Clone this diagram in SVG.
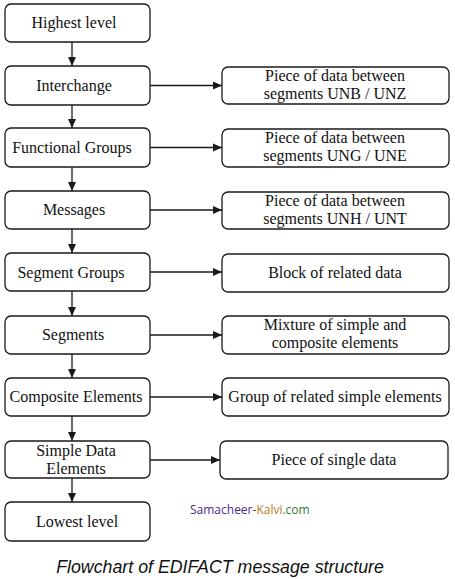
<svg xmlns="http://www.w3.org/2000/svg" width="455" height="579" viewBox="0 0 455 579">
<style>
.box{fill:#fff;stroke:#1a1a1a;stroke-width:1.3}
.t{font-family:'Liberation Serif','DejaVu Serif',serif;font-size:16px;fill:#111;text-anchor:middle}
.c line{stroke:#1a1a1a;stroke-width:1.3}
</style>
<defs>
<marker id="ah" markerWidth="10" markerHeight="10" refX="9" refY="5" orient="auto" markerUnits="userSpaceOnUse">
<path d="M0,1 L9,5 L0,9 Z" fill="#1a1a1a"/>
</marker>
</defs>
<rect width="455" height="579" fill="#fff"/>
<g class="c">
<line x1="72" y1="42" x2="72" y2="66" marker-end="url(#ah)"/>
<line x1="72" y1="105" x2="72" y2="128" marker-end="url(#ah)"/>
<line x1="72" y1="167" x2="72" y2="191" marker-end="url(#ah)"/>
<line x1="72" y1="229" x2="72" y2="253" marker-end="url(#ah)"/>
<line x1="72" y1="291" x2="72" y2="316" marker-end="url(#ah)"/>
<line x1="72" y1="354" x2="72" y2="378" marker-end="url(#ah)"/>
<line x1="72" y1="416" x2="72" y2="441" marker-end="url(#ah)"/>
<line x1="72" y1="478" x2="72" y2="502" marker-end="url(#ah)"/>
<line x1="150" y1="85.5" x2="222" y2="85.5" marker-end="url(#ah)"/>
<line x1="150" y1="147.5" x2="222" y2="147.5" marker-end="url(#ah)"/>
<line x1="150" y1="210" x2="222" y2="210" marker-end="url(#ah)"/>
<line x1="150" y1="272" x2="222" y2="272" marker-end="url(#ah)"/>
<line x1="150" y1="335" x2="222" y2="335" marker-end="url(#ah)"/>
<line x1="150" y1="397" x2="222" y2="397" marker-end="url(#ah)"/>
<line x1="150" y1="460" x2="220" y2="460" marker-end="url(#ah)"/>
</g>
<g id="highest"><rect class="box" x="5" y="4" width="145" height="38" rx="6"/><text class="t" x="74" y="28">Highest level</text></g>
<g id="interchange"><rect class="box" x="5" y="66" width="145" height="39" rx="6"/><text class="t" x="74" y="91">Interchange</text></g>
<g id="functional"><rect class="box" x="5" y="128" width="145" height="39" rx="6"/><text class="t" x="72" y="153">Functional Groups</text></g>
<g id="messages"><rect class="box" x="5" y="191" width="145" height="38" rx="6"/><text class="t" x="74" y="215">Messages</text></g>
<g id="seggroups"><rect class="box" x="5" y="253" width="145" height="38" rx="6"/><text class="t" x="71" y="278">Segment Groups</text></g>
<g id="segments"><rect class="box" x="5" y="316" width="145" height="38" rx="6"/><text class="t" x="73" y="340">Segments</text></g>
<g id="composite"><rect class="box" x="5" y="378" width="145" height="38" rx="6"/><text class="t" x="76" y="402">Composite Elements</text></g>
<g id="simple"><rect class="box" x="5" y="441" width="145" height="37" rx="6"/><text class="t" x="76" y="456">Simple Data</text><text class="t" x="76" y="474">Elements</text></g>
<g id="lowest"><rect class="box" x="5" y="502" width="145" height="39" rx="6"/><text class="t" x="77" y="527">Lowest level</text></g>
<g id="r1"><rect class="box" x="222" y="67" width="227" height="37" rx="6"/><text class="t" x="335" y="81">Piece of data between</text><text class="t" x="335" y="99">segments UNB / UNZ</text></g>
<g id="r2"><rect class="box" x="222" y="129" width="227" height="38" rx="6"/><text class="t" x="335" y="143">Piece of data between</text><text class="t" x="335" y="161">segments UNG / UNE</text></g>
<g id="r3"><rect class="box" x="222" y="192" width="227" height="37" rx="6"/><text class="t" x="335" y="206">Piece of data between</text><text class="t" x="335" y="224">segments UNH / UNT</text></g>
<g id="r4"><rect class="box" x="222" y="254" width="227" height="38" rx="6"/><text class="t" x="335" y="278">Block of related data</text></g>
<g id="r5"><rect class="box" x="222" y="316" width="227" height="38" rx="6"/><text class="t" x="335" y="330">Mixture of simple and</text><text class="t" x="335" y="348">composite elements</text></g>
<g id="r6"><rect class="box" x="222" y="378" width="227" height="38" rx="6"/><text class="t" x="335" y="402">Group of related simple elements</text></g>
<g id="r7"><rect class="box" x="220" y="441" width="228" height="38" rx="6"/><text class="t" x="334" y="465">Piece of single data</text></g>
<text x="190" y="514" font-family="'Open Sans','DejaVu Sans',sans-serif" font-size="12"><tspan fill="#4b2a8c">Samacheer-</tspan><tspan fill="#c07a1c">Kalvi</tspan><tspan fill="#2a7a2a">.com</tspan></text>
<text x="220" y="573" text-anchor="middle" font-family="'Liberation Sans',Arial,sans-serif" font-size="17.8" font-style="italic" fill="#111">Flowchart of EDIFACT message structure</text>
</svg>
